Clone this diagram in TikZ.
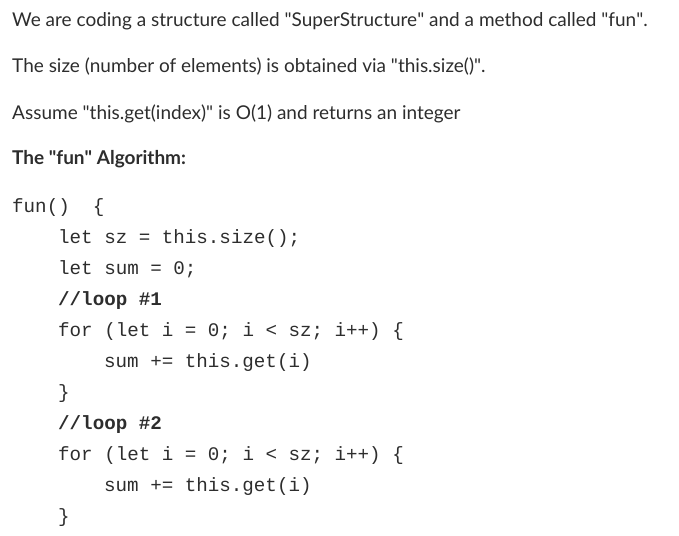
\documentclass[tikz,border=0pt]{standalone}
\usepackage{fontspec}
\setmainfont{Lato}
\newfontfamily\codefont{Liberation Mono}
\definecolor{txt}{HTML}{2D2D2D}
\newcommand{\q}{\textquotedbl}
\begin{document}
\begin{tikzpicture}[x=1pt,y=-1pt,
  prose/.style={anchor=base west,inner sep=0,text=txt,font=\fontsize{19}{22}\selectfont},
  code/.style={anchor=base west,inner sep=0,text=txt,font=\codefont\fontsize{19.2}{22}\selectfont}]
\useasboundingbox (0,0) rectangle (679,535);
\node[prose] (p1) at (12,27) {We are coding a structure called \q SuperStructure\q{} and a method called \q fun\q.};
\node[prose] (p2) at (12,72) {The size (number of elements) is obtained via \q this.size()\q.};
\node[prose] (p3) at (12,119) {Assume \q this.get(index)\q{} is O(1) and returns an integer};
\node[prose,font=\fontsize{19}{22}\selectfont\bfseries] (p4) at (12,164) {The \q fun\q{} Algorithm:};
\node[code] (c1) at (12,212) {fun()\ \ \{};
\node[code] (c2) at (58,243) {let sz = this.size();};
\node[code] (c3) at (58,274) {let sum = 0;};
\node[code,font=\codefont\fontsize{19.2}{22}\selectfont\bfseries] (c4) at (58,305) {//loop \#1};
\node[code] (c5) at (58,336) {for (let i = 0; i < sz; i++) \{};
\node[code] (c6) at (104,367) {sum += this.get(i)};
\node[code] (c7) at (58,398) {\}};
\node[code,font=\codefont\fontsize{19.2}{22}\selectfont\bfseries] (c8) at (58,429) {//loop \#2};
\node[code] (c9) at (58,460) {for (let i = 0; i < sz; i++) \{};
\node[code] (c10) at (104,491) {sum += this.get(i)};
\node[code] (c11) at (58,522) {\}};
\end{tikzpicture}
\end{document}
